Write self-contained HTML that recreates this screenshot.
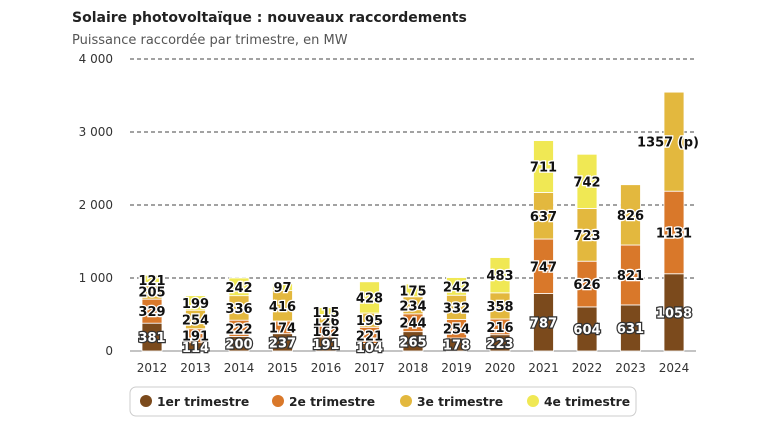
<!DOCTYPE html>
<html><head><meta charset="utf-8">
<style>
body{margin:0;background:#fff;font-family:"Liberation Sans",sans-serif;}
svg text{font-family:"DejaVu Sans","Liberation Sans",sans-serif;}
</style></head><body>
<svg id="c" width="768" height="432" xmlns="http://www.w3.org/2000/svg">
<text x="72" y="22" font-size="14" font-weight="bold" fill="#222">Solaire photovoltaïque : nouveaux raccordements</text>
<text x="72" y="44" font-size="13" fill="#555">Puissance raccordée par trimestre, en MW</text>
<g id="grid"></g><g id="bars"></g><g id="labels"></g>
<g>
<rect x="130" y="387" width="506" height="29" rx="6" fill="#fff" stroke="#ccc"/>
<g id="leg"></g>
</g>
</svg>
<script>
const years=["2012","2013","2014","2015","2016","2017","2018","2019","2020","2021","2022","2023","2024"];
const q1=[381,114,200,237,191,104,265,178,223,787,604,631,1058];
const q2=[329,191,222,174,162,221,244,254,216,747,626,821,1131];
const q3=[205,254,336,416,126,195,234,332,358,637,723,826,1357];
const q4=[121,199,242,97,115,428,175,242,483,711,742,0,0];
const qLabels=["1er trimestre","2e trimestre","3e trimestre","4e trimestre"];
const yTicks=[0,1000,2000,3000,4000];
const tickText=["0","1 000","2 000","3 000","4 000"];
const colors=["#7b4a1c","#d9782a","#e3b83e","#f0e854"];
const NS="http://www.w3.org/2000/svg";
const y=v=>351-v*0.073;
const x=i=>152+i*43.5;
function mk(t,a,p){const e=document.createElementNS(NS,t);for(const k in a)e.setAttribute(k,a[k]);p.appendChild(e);return e;}
const grid=document.getElementById('grid'),bars=document.getElementById('bars'),labels=document.getElementById('labels'),leg=document.getElementById('leg');
yTicks.forEach((t,i)=>{
 const l=mk('line',{x1:130,x2:696,y1:y(t),y2:y(t),stroke:i?'#444':'#888','stroke-dasharray':i?'4,3':'none','stroke-width':1},grid);
 
 
 const tx=mk('text',{x:113,y:y(t)+4,'text-anchor':'end','font-size':12,fill:'#333'},grid);
 tx.textContent=tickText[i];
 
 
});
const series=[q1,q2,q3,q4];
years.forEach((yr,i)=>{
 let base=0;
 series.forEach((s,k)=>{
  const v=s[i]; if(!v) return;
  const r=mk('rect',{x:x(i)-10,y:y(base+v),width:20,height:v*0.073,fill:colors[k],stroke:'#fff','stroke-width':0.8},bars);
  
  
  const txt=(yr==="2024"&&k===2)?v+" (p)":String(v);
  const t=mk('text',{x:x(i)+((yr==="2024"&&k===2)?-6:0),y:y(base+v/2)+5,'text-anchor':'middle','font-size':13,'font-weight':'bold',fill:k===0?'#fff':'#111',stroke:k===0?'#333':'#fff','stroke-width':2.5,'paint-order':'stroke'},labels);
  t.textContent=txt;
  
  
  base+=v;
 });
 const xl=mk('text',{x:x(i),y:372,'text-anchor':'middle','font-size':12,fill:'#333'},grid);
 xl.textContent=yr;
 
 
});
const lx=[146,278,406,533];
qLabels.forEach((q,k)=>{
 const c=mk('circle',{cx:lx[k],cy:401,r:6,fill:colors[k]},leg);
 
 
 const t=mk('text',{x:lx[k]+11,y:406,'font-size':12.3,'font-weight':'bold',fill:'#222'},leg);
 t.textContent=q;
 
 
});
</script>
</body></html>
